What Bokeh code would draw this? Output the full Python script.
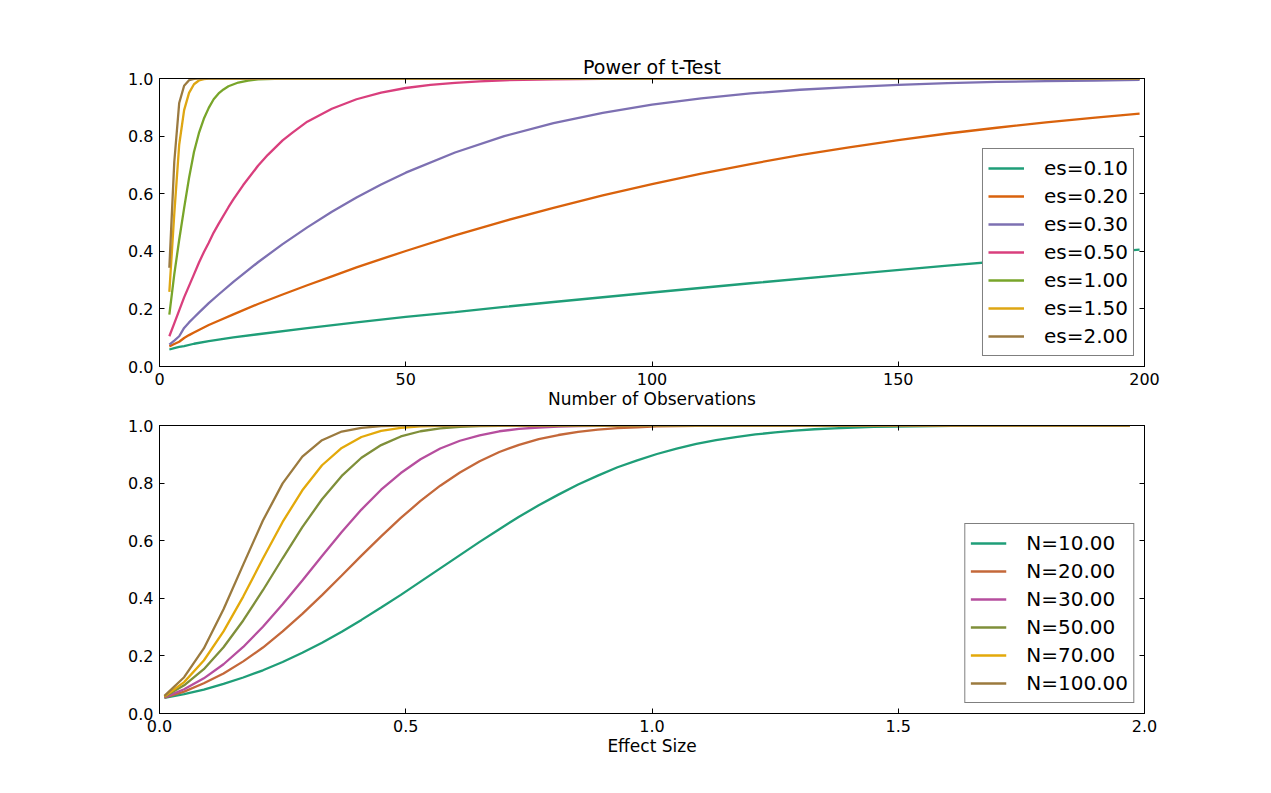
from bokeh.plotting import figure
from bokeh.layouts import column
from bokeh.models import (Range1d, FixedTicker, NumeralTickFormatter, LinearAxis,
                          Legend, LegendItem, CustomJSTickFormatter)
from bokeh.embed import file_html
from bokeh.resources import INLINE

FONT = "DejaVu Sans"

# ---------------- top panel: power vs number of observations ----------------
es_labels = ["es=0.10", "es=0.20", "es=0.30", "es=0.50", "es=1.00", "es=1.50", "es=2.00"]
es_colors = ["#1f9e78", "#d9620c", "#7d70b2", "#d93f7d", "#78a52a", "#dea613", "#9b7a40"]

obs_es010 = [2, 3, 4, 5, 7, 10, 15, 20, 30, 40, 50, 60, 70, 80, 100, 120, 140, 160, 180, 199]
pow_es010 = [0.059, 0.064, 0.068, 0.071, 0.079, 0.088, 0.101, 0.112, 0.133, 0.153, 0.172,
             0.189, 0.207, 0.224, 0.257, 0.289, 0.320, 0.350, 0.379, 0.406]
obs_es020 = [2, 3, 4, 5, 6, 7, 8, 10, 12, 15, 20, 25, 30, 35, 40, 45, 50, 60, 70, 80, 90,
             100, 110, 120, 130, 140, 150, 160, 170, 180, 190, 199]
pow_es020 = [0.070, 0.078, 0.086, 0.099, 0.109, 0.118, 0.127, 0.144, 0.159, 0.181, 0.217,
             0.250, 0.282, 0.313, 0.344, 0.373, 0.401, 0.455, 0.505, 0.551, 0.594,
             0.633, 0.670, 0.703, 0.734, 0.761, 0.786, 0.809, 0.829, 0.848, 0.864, 0.878]
obs_es030 = [2, 3, 4, 5, 6, 7, 8, 10, 12, 15, 20, 25, 30, 35, 40, 45, 50, 60, 70, 80, 90,
             100, 110, 120, 130, 140, 150, 160, 170, 180, 190, 199]
pow_es030 = [0.076, 0.090, 0.105, 0.134, 0.153, 0.170, 0.187, 0.220, 0.250, 0.294, 0.362,
             0.425, 0.483, 0.537, 0.587, 0.632, 0.673, 0.743, 0.800, 0.845, 0.881,
             0.909, 0.931, 0.948, 0.961, 0.970, 0.978, 0.984, 0.988, 0.991, 0.993, 0.995]
obs_es050 = [2, 3, 4, 5, 6, 7, 8, 9, 10, 11, 12, 14, 15, 17, 20, 22, 25, 27, 30, 35, 40,
             45, 50, 55, 60, 65, 70, 80, 90, 100, 199]
pow_es050 = [0.105, 0.150, 0.195, 0.240, 0.280, 0.320, 0.360, 0.397, 0.430, 0.465, 0.495,
             0.553, 0.580, 0.630, 0.697, 0.735, 0.785, 0.812, 0.850, 0.895, 0.928,
             0.951, 0.967, 0.978, 0.985, 0.990, 0.994, 0.997, 0.999, 1.0, 1.0]
obs_es100 = [2, 3, 4, 5, 6, 7, 8, 9, 10, 11, 12, 13, 14, 16, 18, 20, 25, 30, 199]
pow_es100 = [0.180, 0.320, 0.440, 0.550, 0.655, 0.745, 0.810, 0.860, 0.898, 0.928, 0.948,
             0.962, 0.973, 0.986, 0.993, 0.997, 0.9995, 1.0, 1.0]
obs_es150 = [2, 3, 4, 5, 6, 7, 8, 9, 10, 199]
pow_es150 = [0.259, 0.530, 0.770, 0.890, 0.950, 0.980, 0.993, 0.998, 1.0, 1.0]
obs_es200 = [2, 3, 4, 5, 6, 7, 8, 199]
pow_es200 = [0.343, 0.710, 0.915, 0.975, 0.994, 0.999, 1.0, 1.0]

top_series = [(obs_es010, pow_es010), (obs_es020, pow_es020), (obs_es030, pow_es030),
              (obs_es050, pow_es050), (obs_es100, pow_es100), (obs_es150, pow_es150),
              (obs_es200, pow_es200)]

obs_ticks = [0, 50, 100, 150, 200]
power_ticks = [0.0, 0.2, 0.4, 0.6, 0.8, 1.0]

# ---------------- bottom panel: power vs effect size ----------------
n_labels = ["N=10.00", "N=20.00", "N=30.00", "N=50.00", "N=70.00", "N=100.00"]
n_colors = ["#1f9e78", "#c4683a", "#b64e9e", "#7f8f3a", "#e3a90a", "#9b7a3e"]

effect_sizes = [0.01, 0.05, 0.09, 0.13, 0.17, 0.21, 0.25, 0.29, 0.33, 0.37,
                0.41, 0.45, 0.49, 0.53, 0.57, 0.61, 0.65, 0.69, 0.73, 0.77,
                0.81, 0.85, 0.89, 0.93, 0.97, 1.01, 1.05, 1.09, 1.13, 1.17,
                1.21, 1.25, 1.29, 1.33, 1.37, 1.41, 1.45, 1.49, 1.53, 1.57,
                1.61, 1.65, 1.69, 1.73, 1.77, 1.81, 1.85, 1.89, 1.93, 1.97]

pow_n10 = [0.054, 0.067, 0.083, 0.103, 0.125, 0.150, 0.179, 0.211, 0.246, 0.284,
           0.325, 0.368, 0.412, 0.458, 0.504, 0.550, 0.596, 0.640, 0.683, 0.723,
           0.760, 0.795, 0.826, 0.855, 0.879, 0.901, 0.920, 0.936, 0.949, 0.960,
           0.969, 0.976, 0.982, 0.987, 0.990, 0.993, 0.995, 0.996, 0.997, 0.998,
           0.9988, 0.9992, 0.9994, 0.9996, 0.9998, 0.9999, 0.9999, 1.0, 1.0, 1.0]
pow_n20 = [0.055, 0.076, 0.105, 0.139, 0.181, 0.229, 0.285, 0.346, 0.411, 0.479,
           0.548, 0.615, 0.679, 0.738, 0.791, 0.837, 0.876, 0.908, 0.933, 0.953,
           0.967, 0.978, 0.986, 0.991, 0.994, 0.997, 0.998, 0.9988, 0.9994, 0.9997,
           0.9998, 1.0, 1.0, 1.0, 1.0, 1.0, 1.0, 1.0, 1.0, 1.0,
           1.0, 1.0, 1.0, 1.0, 1.0, 1.0, 1.0, 1.0, 1.0, 1.0]
pow_n30 = [0.056, 0.084, 0.122, 0.171, 0.231, 0.301, 0.379, 0.462, 0.547, 0.630,
           0.708, 0.777, 0.835, 0.883, 0.920, 0.947, 0.966, 0.980, 0.988, 0.993,
           0.996, 0.998, 0.9991, 0.9996, 0.9998, 1.0, 1.0, 1.0, 1.0, 1.0,
           1.0, 1.0, 1.0, 1.0, 1.0, 1.0, 1.0, 1.0, 1.0, 1.0,
           1.0, 1.0, 1.0, 1.0, 1.0, 1.0, 1.0, 1.0, 1.0, 1.0]
pow_n50 = [0.058, 0.098, 0.154, 0.230, 0.323, 0.428, 0.539, 0.647, 0.744, 0.825,
           0.888, 0.932, 0.962, 0.980, 0.990, 0.9955, 0.998, 0.9992, 0.9997, 1.0,
           1.0, 1.0, 1.0, 1.0, 1.0, 1.0, 1.0, 1.0, 1.0, 1.0,
           1.0, 1.0, 1.0, 1.0, 1.0, 1.0, 1.0, 1.0, 1.0, 1.0,
           1.0, 1.0, 1.0, 1.0, 1.0, 1.0, 1.0, 1.0, 1.0, 1.0]
pow_n70 = [0.059, 0.109, 0.184, 0.285, 0.406, 0.538, 0.665, 0.775, 0.862, 0.922,
           0.960, 0.981, 0.992, 0.997, 0.9989, 0.9997, 1.0, 1.0, 1.0, 1.0,
           1.0, 1.0, 1.0, 1.0, 1.0, 1.0, 1.0, 1.0, 1.0, 1.0,
           1.0, 1.0, 1.0, 1.0, 1.0, 1.0, 1.0, 1.0, 1.0, 1.0,
           1.0, 1.0, 1.0, 1.0, 1.0, 1.0, 1.0, 1.0, 1.0, 1.0]
pow_n100 = [0.061, 0.126, 0.226, 0.362, 0.517, 0.670, 0.799, 0.892, 0.949, 0.979,
            0.992, 0.998, 0.9994, 0.9999, 1.0, 1.0, 1.0, 1.0, 1.0, 1.0,
            1.0, 1.0, 1.0, 1.0, 1.0, 1.0, 1.0, 1.0, 1.0, 1.0,
            1.0, 1.0, 1.0, 1.0, 1.0, 1.0, 1.0, 1.0, 1.0, 1.0,
            1.0, 1.0, 1.0, 1.0, 1.0, 1.0, 1.0, 1.0, 1.0, 1.0]

bottom_series = [pow_n10, pow_n20, pow_n30, pow_n50, pow_n70, pow_n100]
es_ticks = [0.0, 0.5, 1.0, 1.5, 2.0]

LW = 2.3


def style(p, xticks, xfmt, xlabel):
    p.outline_line_color = "black"
    p.outline_line_width = 1
    p.grid.visible = False
    for ax in p.xaxis + p.yaxis:
        ax.axis_line_color = "black"
        ax.major_tick_in = 5
        ax.major_tick_out = 0
        ax.minor_tick_line_color = None
        ax.major_label_text_font = FONT
        ax.major_label_text_font_size = "16px"
        ax.major_label_text_color = "black"
        ax.major_label_standoff = 6
        ax.axis_label_text_font = FONT
        ax.axis_label_text_font_size = "17px"
        ax.axis_label_text_font_style = "normal"
        ax.axis_label_text_color = "black"
        ax.axis_label_standoff = 1
    p.xaxis.ticker = FixedTicker(ticks=xticks)
    p.xaxis.formatter = xfmt
    p.yaxis.ticker = FixedTicker(ticks=power_ticks)
    p.yaxis.formatter = NumeralTickFormatter(format="0.0")
    p.below[0].axis_label = xlabel
    # tick marks on the opposite sides (no labels)
    for loc, tk in (("right", power_ticks), ("above", xticks)):
        a = LinearAxis(ticker=FixedTicker(ticks=tk), major_tick_in=5, major_tick_out=0,
                       minor_tick_line_color=None, major_label_standoff=0,
                       formatter=CustomJSTickFormatter(code="return ''"),
                       major_label_text_font_size="1px", axis_line_color="black")
        p.add_layout(a, loc)


p1 = figure(frame_width=985, frame_height=288, x_range=Range1d(0, 200), y_range=Range1d(0, 1),
            output_backend="svg", toolbar_location=None,
            min_border_left=159, min_border_right=103, min_border_top=78, min_border_bottom=44,
            background_fill_color="white", border_fill_color="white")
p1.title.text = "Power of t-Test"
p1.title.align = "center"
p1.title.text_font = FONT
p1.title.text_font_size = "19px"
p1.title.text_font_style = "normal"
p1.title.text_color = "black"
p1.title.standoff = 2
style(p1, obs_ticks, NumeralTickFormatter(format="0"), "Number of Observations")

items1 = []
for (xs, ys), lab, col in zip(top_series, es_labels, es_colors):
    r = p1.line(xs, ys, line_color=col, line_width=LW)
    items1.append(LegendItem(label=lab, renderers=[r]))
leg1 = Legend(items=items1, location="bottom_right", margin=10, padding=5,
              label_text_font=FONT, label_text_font_size="20px", label_text_color="black",
              glyph_width=36, glyph_height=28, label_height=28, label_standoff=20, spacing=0,
              border_line_color="black", border_line_width=1, background_fill_alpha=1)
p1.add_layout(leg1)

p2 = figure(frame_width=985, frame_height=288, x_range=Range1d(0, 2), y_range=Range1d(0, 1),
            output_backend="svg", toolbar_location=None,
            min_border_left=159, min_border_right=103, min_border_top=14, min_border_bottom=62,
            background_fill_color="white", border_fill_color="white")
style(p2, es_ticks, NumeralTickFormatter(format="0.0"), "Effect Size")

items2 = []
for ys, lab, col in zip(bottom_series, n_labels, n_colors):
    r = p2.line(effect_sizes, ys, line_color=col, line_width=LW)
    items2.append(LegendItem(label=lab, renderers=[r]))
leg2 = Legend(items=items2, location="bottom_right", margin=10, padding=5,
              label_text_font=FONT, label_text_font_size="20px", label_text_color="black",
              glyph_width=36, glyph_height=28, label_height=28, label_standoff=20, spacing=0,
              border_line_color="black", border_line_width=1, background_fill_alpha=1)
p2.add_layout(leg2)

layout = column(p1, p2, spacing=0)
open("out.html", "w").write(file_html(layout, INLINE))
